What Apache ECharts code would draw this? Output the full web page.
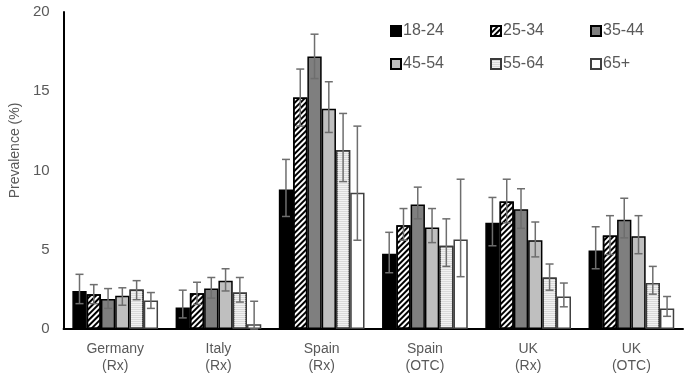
<!DOCTYPE html>
<html>
<head>
<meta charset="utf-8">
<script src="https://cdn.jsdelivr.net/npm/echarts@6/dist/echarts.min.js"></script>
<style>
  html, body { margin: 0; padding: 0; background: #fff; }
  #chart { width: 685px; height: 382px; }
</style>
</head>
<body>
<div id="chart"></div>
<script>
// categories and age groups
var categories = ['Germany\n(Rx)', 'Italy\n(Rx)', 'Spain\n(Rx)', 'Spain\n(OTC)', 'UK\n(Rx)', 'UK\n(OTC)'];
var ageGroups = ['18-24', '25-34', '35-44', '45-54', '55-64', '65+'];
var yTicks = [0, 5, 10, 15, 20];

// prevalence (%) per age group, one value per category
var v1824 = [2.4, 1.35, 8.8, 4.75, 6.7, 4.95];
var v2534 = [2.2, 2.25, 14.6, 6.55, 8.05, 5.9];
var v3544 = [1.9, 2.55, 17.2, 7.85, 7.55, 6.9];
var v4554 = [2.1, 3.05, 13.9, 6.4, 5.6, 5.85];
var v5564 = [2.5, 2.3, 11.3, 5.25, 3.25, 2.9];
var v65 = [1.8, 0.3, 8.6, 5.65, 2.05, 1.3];

// error bar lower / upper ends
var lo1824 = [1.6, 0.7, 7.1, 3.55, 5.25, 3.8];
var hi1824 = [3.45, 2.45, 10.7, 6.1, 8.3, 6.45];
var lo2534 = [1.6, 1.55, 12.8, 5.6, 6.7, 4.7];
var hi2534 = [2.8, 2.95, 16.4, 7.6, 9.45, 7.15];
var lo3544 = [1.3, 1.95, 15.8, 6.95, 6.35, 5.75];
var hi3544 = [2.55, 3.25, 18.6, 8.95, 8.85, 8.25];
var lo4554 = [1.5, 2.4, 12.4, 5.45, 4.55, 4.75];
var hi4554 = [2.6, 3.8, 15.6, 7.6, 6.75, 7.15];
var lo5564 = [1.85, 1.7, 9.3, 3.95, 2.45, 2.2];
var hi5564 = [3.05, 3.25, 13.6, 6.95, 4.1, 3.95];
var lo65 = [1.3, 0, 5.6, 3.3, 1.4, 0.8];
var hi65 = [2.3, 1.75, 12.8, 9.45, 2.9, 2.05];

var values = [v1824, v2534, v3544, v4554, v5564, v65];
var lows = [lo1824, lo2534, lo3544, lo4554, lo5564, lo65];
var highs = [hi1824, hi2534, hi3544, hi4554, hi5564, hi65];

var CAT_GAP = 0.17;
var txtColor = '#595959';
var fontFam = 'Liberation Sans, Arial, sans-serif';

var styles = [
    {color: '#000000', borderColor: '#000', borderWidth: 1.5},
    {color: '#ffffff', borderColor: '#000', borderWidth: 1.5,
        decal: {symbol: 'rect', color: '#000', dashArrayX: [1, 0], dashArrayY: [1.5, 1.5], rotation: -Math.PI / 4, symbolSize: 1}},
    {color: '#7f7f7f', borderColor: '#000', borderWidth: 1.5},
    {color: '#bfbfbf', borderColor: '#000', borderWidth: 1.5},
    {color: '#d9d9d9', borderColor: '#3a3a3a', borderWidth: 1.5,
        decal: {symbol: 'rect', color: '#f2f2f2', dashArrayX: [1, 0], dashArrayY: [1, 1], rotation: 0, symbolSize: 1}},
    {color: '#ffffff', borderColor: '#404040', borderWidth: 1.5}
];

function errRender(k) {
    return function (params, api) {
        var cat = api.value(0);
        var p1 = api.coord([cat, api.value(1)]);
        var p2 = api.coord([cat, api.value(2)]);
        var band = api.size([1, 0])[0];
        var used = band * (1 - CAT_GAP);
        var bw = used / ageGroups.length;
        var x = p1[0] - used / 2 + bw * (k + 0.5);
        var cap = 4;
        var st = {stroke: '#6e6e6e', lineWidth: 1.5};
        return {
            type: 'group',
            children: [
                {type: 'line', shape: {x1: x, y1: p1[1], x2: x, y2: p2[1]}, style: st},
                {type: 'line', shape: {x1: x - cap, y1: p1[1], x2: x + cap, y2: p1[1]}, style: st},
                {type: 'line', shape: {x1: x - cap, y1: p2[1], x2: x + cap, y2: p2[1]}, style: st}
            ]
        };
    };
}

var series = [];
for (var i = 0; i < ageGroups.length; i++) {
    series.push({
        name: ageGroups[i],
        type: 'bar',
        barGap: '0%',
        barCategoryGap: (CAT_GAP * 100) + '%',
        itemStyle: styles[i],
        data: values[i]
    });
}
for (var k = 0; k < ageGroups.length; k++) {
    var errData = [];
    for (var c = 0; c < categories.length; c++) {
        errData.push([c, lows[k][c], highs[k][c]]);
    }
    series.push({
        type: 'custom',
        renderItem: errRender(k),
        encode: {x: 0, y: [1, 2]},
        z: 5,
        silent: true,
        data: errData
    });
}

function legendCol(items, left) {
    return {
        orient: 'vertical',
        left: left,
        top: 18,
        itemWidth: 10,
        itemHeight: 10,
        itemGap: 17,
        icon: 'rect',
        data: items,
        textStyle: {fontSize: 16, color: txtColor, fontFamily: fontFam, padding: [0, 0, 0, -3]}
    };
}

var myChart = echarts.init(document.getElementById('chart'));
var option = {
    backgroundColor: '#fff',
    animation: false,
    legend: [
        legendCol([ageGroups[0], ageGroups[3]], 385),
        legendCol([ageGroups[1], ageGroups[4]], 485),
        legendCol([ageGroups[2], ageGroups[5]], 585)
    ],
    grid: {left: 62, right: 2, top: 12, bottom: 53},
    xAxis: {
        type: 'category',
        data: categories,
        axisLine: {lineStyle: {color: '#000', width: 2}},
        axisTick: {show: false},
        axisLabel: {fontSize: 14, color: txtColor, fontFamily: fontFam, lineHeight: 17, margin: 12}
    },
    yAxis: {
        type: 'value',
        min: yTicks[0],
        max: yTicks[yTicks.length - 1],
        interval: 5,
        name: 'Prevalence (%)',
        nameLocation: 'middle',
        nameGap: 40,
        nameTextStyle: {fontSize: 14, color: txtColor, fontFamily: fontFam, padding: [0, 0, 0, 40]},
        axisLine: {show: true, lineStyle: {color: '#000', width: 2}},
        axisTick: {show: false},
        splitLine: {show: false},
        axisLabel: {fontSize: 15, color: txtColor, fontFamily: fontFam, margin: 14}
    },
    series: series
};
myChart.setOption(option);
</script>
</body>
</html>
